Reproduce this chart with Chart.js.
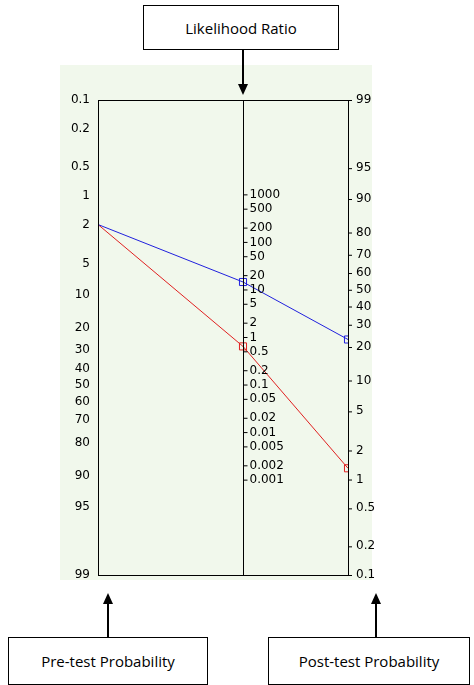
<!DOCTYPE html>
<html><head><meta charset="utf-8">
<script src="https://cdn.jsdelivr.net/npm/chart.js@4"></script>
<style>
body{margin:0;width:474px;height:685px;background:#fff;position:relative;overflow:hidden;font-family:"Open Sans","Liberation Sans",sans-serif}
#bg{position:absolute;left:60px;top:65px;width:312px;height:515px;background:#f1f8ec}
#wrap{position:absolute;left:0;top:0;width:474px;height:685px}
.box{position:absolute;border:1.5px solid #000;background:#fff;font-size:15px;display:flex;align-items:center;justify-content:center;box-sizing:border-box}
.ar{position:absolute;width:2px;background:#000}
.tri{position:absolute;width:0;height:0;border-left:5px solid transparent;border-right:5px solid transparent}
</style></head><body>
<div id="bg"></div>
<div id="wrap"><canvas id="c" width="474" height="685"></canvas></div>
<div class="box" style="left:143px;top:5px;width:196px;height:45px">Likelihood Ratio</div>
<div class="ar" style="left:242px;top:50px;height:36px"></div>
<div class="tri" style="left:238px;top:84px;border-top:11px solid #000"></div>
<div class="box" style="left:8px;top:637px;width:200px;height:48px">Pre-test Probability</div>
<div class="ar" style="left:107px;top:604px;height:33px"></div>
<div class="tri" style="left:103px;top:593px;border-bottom:11px solid #000"></div>
<div class="box" style="left:268px;top:637px;width:202px;height:48px">Post-test Probability</div>
<div class="ar" style="left:375px;top:604px;height:33px"></div>
<div class="tri" style="left:371px;top:593px;border-bottom:11px solid #000"></div>
<script>
const preTicks=[0.1,0.2,0.5,1,2,5,10,20,30,40,50,60,70,80,90,95,99];
const postTicks=[99,95,90,80,70,60,50,40,30,20,10,5,2,1,0.5,0.2,0.1];
const lrTicks=[1000,500,200,100,50,20,10,5,2,1,0.5,0.2,0.1,0.05,0.02,0.01,0.005,0.002,0.001];
const seriesNames=['Positive test','Negative test'];
const preTest=[2,2];      // %
const likelihoodRatio=[14.7,0.65];
const seriesColors=['#2020dd','#e02020'];
const MIDX=0.58;

const logit=p=>Math.log((p/100)/(1-p/100));
const UMIN=logit(0.1), UMAX=logit(99);
const toU_pre=p=>logit(p);
const toU_post=p=>-logit(p)+UMIN+UMAX;
const toU_lr=lr=>UMIN+((UMAX-UMIN)-Math.log(lr))/2;

const datasets=preTest.map((p,i)=>{
  const l0=logit(p), l1=l0+Math.log(likelihoodRatio[i]);
  const post=100/(1+Math.exp(-l1));
  return {label:seriesNames[i],data:[{x:0,y:toU_pre(p)},{x:MIDX,y:toU_lr(likelihoodRatio[i])},{x:1,y:toU_post(post)}],
    borderColor:seriesColors[i],borderWidth:1,pointStyle:'rect',pointRadius:[0,5,5],pointBorderColor:seriesColors[i],
    pointBackgroundColor:'rgba(0,0,0,0)',pointBorderWidth:1,tension:0};
});

const axesPlugin={id:'nomo',afterDraw(ch){
  const c=ch.ctx,a=ch.chartArea,y=ch.scales.y,x=ch.scales.x;
  c.save();c.strokeStyle='#000';c.lineWidth=1;
  c.strokeRect(a.left+0.5,a.top+0.5,a.right-a.left,a.bottom-a.top);
  const xm=Math.round(x.getPixelForValue(MIDX))+0.5;
  c.beginPath();c.moveTo(xm,a.top);c.lineTo(xm,a.bottom);c.stroke();
  c.font='12px "DejaVu Sans"';c.fillStyle='#000';c.textBaseline='middle';
  c.textAlign='right';
  preTicks.forEach(t=>{const py=y.getPixelForValue(toU_pre(t));c.fillText(String(t),a.left-8,py);});
  c.textAlign='left';
  postTicks.forEach(t=>{const py=y.getPixelForValue(toU_post(t));c.fillText(String(t),a.right+8,py);
    c.beginPath();c.moveTo(a.right,py+0.5);c.lineTo(a.right+4,py+0.5);c.stroke();});
  lrTicks.forEach(t=>{const py=y.getPixelForValue(toU_lr(t));c.fillText(String(t),xm+6,py);
    c.beginPath();c.moveTo(xm,py);c.lineTo(xm+4,py);c.stroke();});
  c.restore();
}};

new Chart(document.getElementById('c'),{type:'line',data:{datasets},
 options:{responsive:false,animation:false,
  layout:{padding:{left:98,right:126,top:100,bottom:110}},
  plugins:{legend:{display:false},tooltip:{enabled:false}},
  scales:{x:{type:'linear',min:0,max:1,display:false},
          y:{type:'linear',min:UMIN,max:UMAX,reverse:true,display:false}}},
 plugins:[axesPlugin]});
</script></body></html>
